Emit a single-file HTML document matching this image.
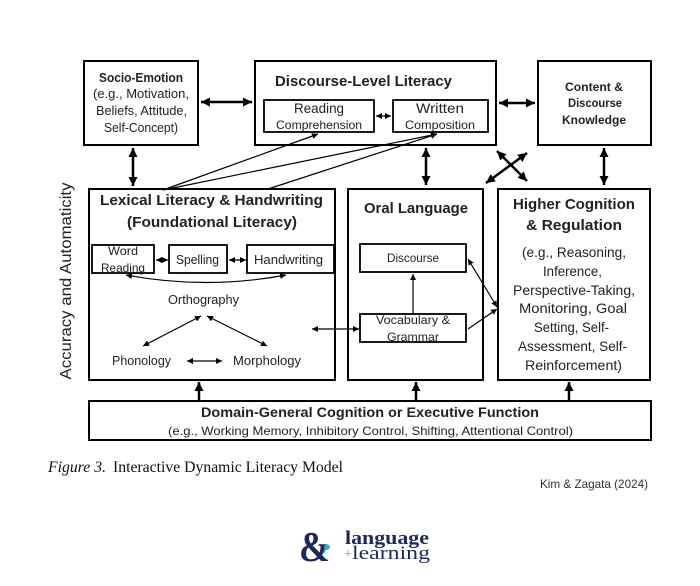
<!DOCTYPE html>
<html>
<head>
<meta charset="utf-8">
<style>
html,body{margin:0;padding:0;background:#fff;}
svg{display:block;}
text{font-family:"Liberation Sans",Arial,sans-serif;fill:#222;}
.b{font-weight:bold;}
.serif{font-family:"Liberation Serif","Times New Roman",serif;}
</style>
</head>
<body>
<svg width="700" height="586" viewBox="0 0 700 586" xmlns="http://www.w3.org/2000/svg">
<defs>
  <marker id="big" markerUnits="userSpaceOnUse" markerWidth="10" markerHeight="10" refX="9" refY="5" orient="auto-start-reverse">
    <path d="M0,0.5 L9,5 L0,9.5 z" fill="#000"/>
  </marker>
  <marker id="sm" markerUnits="userSpaceOnUse" markerWidth="7" markerHeight="7" refX="6" refY="3.5" orient="auto-start-reverse">
    <path d="M0,0.5 L6,3.5 L0,6.5 z" fill="#000"/>
  </marker>
</defs>
<rect width="700" height="586" fill="#fff"/>

<!-- main boxes -->
<g fill="none" stroke="#000" stroke-width="2">
  <rect x="84" y="61" width="114" height="84"/>
  <rect x="255" y="61" width="241" height="84"/>
  <rect x="538" y="61" width="113" height="84"/>
  <rect x="89" y="189" width="246" height="191"/>
  <rect x="348" y="189" width="135" height="191"/>
  <rect x="498" y="189" width="152" height="191"/>
  <rect x="89" y="401" width="562" height="39"/>
</g>
<!-- inner boxes -->
<g fill="none" stroke="#000" stroke-width="1.8">
  <rect x="264" y="100" width="110" height="32"/>
  <rect x="393" y="100" width="95" height="32"/>
  <rect x="92" y="245" width="62" height="28"/>
  <rect x="169" y="245" width="58" height="28"/>
  <rect x="247" y="245" width="87" height="28"/>
  <rect x="360" y="244" width="106" height="28"/>
  <rect x="360" y="314" width="106" height="28"/>
</g>

<!-- thick arrows -->
<g stroke="#000" stroke-width="2.5" fill="none">
  <line x1="201" y1="102" x2="252" y2="102" marker-start="url(#big)" marker-end="url(#big)"/>
  <line x1="499" y1="103" x2="535" y2="103" marker-start="url(#big)" marker-end="url(#big)"/>
  <line x1="133" y1="148" x2="133" y2="186" marker-start="url(#big)" marker-end="url(#big)"/>
  <line x1="426" y1="148" x2="426" y2="185" marker-start="url(#big)" marker-end="url(#big)"/>
  <line x1="604" y1="148" x2="604" y2="185" marker-start="url(#big)" marker-end="url(#big)"/>
  <line x1="497" y1="151" x2="527" y2="181" marker-start="url(#big)" marker-end="url(#big)"/>
  <line x1="527" y1="153" x2="486" y2="183" marker-start="url(#big)" marker-end="url(#big)"/>
  <line x1="199" y1="400" x2="199" y2="382" marker-end="url(#big)"/>
  <line x1="416" y1="400" x2="416" y2="382" marker-end="url(#big)"/>
  <line x1="569" y1="400" x2="569" y2="382" marker-end="url(#big)"/>
</g>

<!-- thin arrows -->
<g stroke="#000" stroke-width="1.2" fill="none">
  <line x1="376" y1="116" x2="391" y2="116" marker-start="url(#sm)" marker-end="url(#sm)"/>
  <line x1="156" y1="260" x2="168" y2="260" marker-start="url(#sm)" marker-end="url(#sm)"/>
  <line x1="229" y1="260" x2="246" y2="260" marker-start="url(#sm)" marker-end="url(#sm)"/>
  <path d="M126,275 Q206,290 286,275" marker-start="url(#sm)" marker-end="url(#sm)"/>
  <line x1="201" y1="316" x2="143" y2="346" marker-start="url(#sm)" marker-end="url(#sm)"/>
  <line x1="207" y1="316" x2="267" y2="346" marker-start="url(#sm)" marker-end="url(#sm)"/>
  <line x1="187" y1="361" x2="222" y2="361" marker-start="url(#sm)" marker-end="url(#sm)"/>
  <line x1="312" y1="329" x2="359" y2="329" marker-start="url(#sm)" marker-end="url(#sm)"/>
  <line x1="413" y1="313" x2="413" y2="274" marker-end="url(#sm)"/>
  <line x1="468" y1="259" x2="497" y2="307" marker-start="url(#sm)" marker-end="url(#sm)"/>
  <line x1="468" y1="329" x2="497" y2="309" marker-end="url(#sm)"/>
  <line x1="163" y1="190" x2="318" y2="134" marker-end="url(#sm)"/>
  <line x1="163" y1="190" x2="437" y2="134" marker-end="url(#sm)"/>
  <line x1="268" y1="189" x2="437" y2="134" marker-end="url(#sm)"/>
</g>

<!-- Socio-Emotion -->
<text class="b" x="99" y="82" font-size="13" textLength="84" lengthAdjust="spacingAndGlyphs">Socio-Emotion</text>
<text x="93" y="98" font-size="13" textLength="96" lengthAdjust="spacingAndGlyphs">(e.g., Motivation,</text>
<text x="96" y="115" font-size="13" textLength="91" lengthAdjust="spacingAndGlyphs">Beliefs, Attitude,</text>
<text x="104" y="132" font-size="13" textLength="74" lengthAdjust="spacingAndGlyphs">Self-Concept)</text>

<!-- Discourse-Level Literacy -->
<text class="b" x="275" y="86" font-size="15" textLength="177" lengthAdjust="spacingAndGlyphs">Discourse-Level Literacy</text>
<text x="294" y="113" font-size="14" textLength="50" lengthAdjust="spacingAndGlyphs">Reading</text>
<text x="276" y="129" font-size="12" textLength="86" lengthAdjust="spacingAndGlyphs">Comprehension</text>
<text x="416" y="113" font-size="14" textLength="48" lengthAdjust="spacingAndGlyphs">Written</text>
<text x="405" y="129" font-size="12" textLength="70" lengthAdjust="spacingAndGlyphs">Composition</text>

<!-- Content & Discourse Knowledge -->
<text class="b" x="565" y="91" font-size="12" textLength="58" lengthAdjust="spacingAndGlyphs">Content &amp;</text>
<text class="b" x="568" y="107" font-size="12" textLength="54" lengthAdjust="spacingAndGlyphs">Discourse</text>
<text class="b" x="562" y="124" font-size="12" textLength="64" lengthAdjust="spacingAndGlyphs">Knowledge</text>

<!-- Lexical -->
<text class="b" x="100" y="205" font-size="15" textLength="223" lengthAdjust="spacingAndGlyphs">Lexical Literacy &amp; Handwriting</text>
<text class="b" x="127" y="227" font-size="15" textLength="170" lengthAdjust="spacingAndGlyphs">(Foundational Literacy)</text>
<text x="108" y="255" font-size="12" textLength="30" lengthAdjust="spacingAndGlyphs">Word</text>
<text x="101" y="272" font-size="12" textLength="44" lengthAdjust="spacingAndGlyphs">Reading</text>
<text x="176" y="264" font-size="12.5" textLength="43" lengthAdjust="spacingAndGlyphs">Spelling</text>
<text x="254" y="264" font-size="12.5" textLength="69" lengthAdjust="spacingAndGlyphs">Handwriting</text>
<text x="168" y="304" font-size="12.5" textLength="71" lengthAdjust="spacingAndGlyphs">Orthography</text>
<text x="112" y="365" font-size="12.5" textLength="59" lengthAdjust="spacingAndGlyphs">Phonology</text>
<text x="233" y="365" font-size="12.5" textLength="68" lengthAdjust="spacingAndGlyphs">Morphology</text>

<!-- Oral Language -->
<text class="b" x="364" y="213" font-size="15" textLength="104" lengthAdjust="spacingAndGlyphs">Oral Language</text>
<text x="387" y="262" font-size="12" textLength="52" lengthAdjust="spacingAndGlyphs">Discourse</text>
<text x="376" y="324" font-size="12" textLength="74" lengthAdjust="spacingAndGlyphs">Vocabulary &amp;</text>
<text x="387" y="341" font-size="12" textLength="52" lengthAdjust="spacingAndGlyphs">Grammar</text>

<!-- Higher Cognition -->
<text class="b" x="513" y="209" font-size="15" textLength="122" lengthAdjust="spacingAndGlyphs">Higher Cognition</text>
<text class="b" x="526" y="230" font-size="15" textLength="96" lengthAdjust="spacingAndGlyphs">&amp; Regulation</text>
<text x="522" y="257" font-size="14" textLength="104" lengthAdjust="spacingAndGlyphs">(e.g., Reasoning,</text>
<text x="543" y="276" font-size="14" textLength="59" lengthAdjust="spacingAndGlyphs">Inference,</text>
<text x="513" y="295" font-size="14" textLength="122" lengthAdjust="spacingAndGlyphs">Perspective-Taking,</text>
<text x="519" y="313" font-size="14" textLength="108" lengthAdjust="spacingAndGlyphs">Monitoring, Goal</text>
<text x="534" y="332" font-size="14" textLength="75" lengthAdjust="spacingAndGlyphs">Setting, Self-</text>
<text x="518" y="351" font-size="14" textLength="109" lengthAdjust="spacingAndGlyphs">Assessment, Self-</text>
<text x="525" y="370" font-size="14" textLength="97" lengthAdjust="spacingAndGlyphs">Reinforcement)</text>

<!-- Domain-General -->
<text class="b" x="201" y="417" font-size="14" textLength="338" lengthAdjust="spacingAndGlyphs">Domain-General Cognition or Executive Function</text>
<text x="168" y="435" font-size="12" textLength="405" lengthAdjust="spacingAndGlyphs">(e.g., Working Memory, Inhibitory Control, Shifting, Attentional Control)</text>

<!-- Accuracy and Automaticity -->
<text x="0" y="0" font-size="16" text-anchor="middle" textLength="197" lengthAdjust="spacingAndGlyphs" transform="translate(71,281) rotate(-90)">Accuracy and Automaticity</text>

<!-- Caption -->
<text class="serif" x="48" y="472" font-size="16" font-style="italic" textLength="58" lengthAdjust="spacingAndGlyphs" style="fill:#111">Figure 3.</text>
<text class="serif" x="113" y="472" font-size="16" textLength="230" lengthAdjust="spacingAndGlyphs" style="fill:#111">Interactive Dynamic Literacy Model</text>

<text x="540" y="488" font-size="12" textLength="108" lengthAdjust="spacingAndGlyphs" style="fill:#333">Kim &amp; Zagata (2024)</text>

<!-- Logo -->
<text class="serif" x="299" y="561" font-size="42" font-weight="bold" textLength="31" lengthAdjust="spacingAndGlyphs" style="fill:#1f2658">&amp;</text>
<circle cx="327" cy="547" r="2.8" fill="#2ab3b8"/>
<path d="M325.5,548 Q325,552 323,553" stroke="#2ab3b8" stroke-width="1.5" fill="none"/>
<text class="serif" x="345" y="544" font-size="19" font-weight="bold" textLength="84" lengthAdjust="spacingAndGlyphs" style="fill:#1f2658">language</text>
<text class="serif" x="344" y="558" font-size="14" style="fill:#2ab3b8">+</text>
<text class="serif" x="352" y="559" font-size="19" textLength="78" lengthAdjust="spacingAndGlyphs" style="fill:#1f2658">learning</text>
</svg>
</body>
</html>
